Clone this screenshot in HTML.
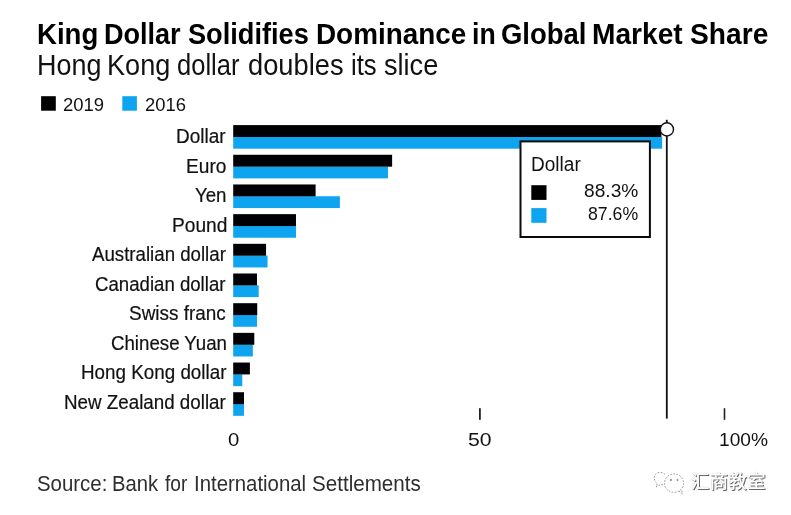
<!DOCTYPE html>
<html><head><meta charset="utf-8"><title>King Dollar Solidifies Dominance in Global Market Share</title>
<style>
html,body{margin:0;padding:0;background:#fff;}
body{width:791px;height:515px;position:relative;overflow:hidden;font-family:"Liberation Sans","Noto Sans CJK SC",sans-serif;color:#111;}
.abs{position:absolute;white-space:nowrap;}
.w{position:absolute;white-space:nowrap;line-height:1;transform-origin:0 50%;}
#wm{position:absolute;left:690.8px;top:469.6px;font-size:18.6px;font-weight:500;line-height:24px;color:#fff;text-shadow:1px 1px 0.5px #666,0 0 1px #aaa;white-space:nowrap;letter-spacing:0.15px;}
</style></head><body>
<div id="title"><span class="w" style="left:37.26px;top:19.80px;font-size:28.6px;font-weight:bold;color:#000;transform:scaleX(0.9647);">King</span> <span class="w" style="left:104.40px;top:19.80px;font-size:28.6px;font-weight:bold;color:#000;transform:scaleX(0.9459);">Dollar</span> <span class="w" style="left:188.40px;top:19.80px;font-size:28.6px;font-weight:bold;color:#000;transform:scaleX(0.9500);">Solidifies</span> <span class="w" style="left:315.84px;top:19.80px;font-size:28.6px;font-weight:bold;color:#000;transform:scaleX(0.9744);">Dominance</span> <span class="w" style="left:471.74px;top:19.80px;font-size:28.6px;font-weight:bold;color:#000;transform:scaleX(0.9321);">in</span> <span class="w" style="left:500.71px;top:19.80px;font-size:28.6px;font-weight:bold;color:#000;transform:scaleX(0.9607);">Global</span> <span class="w" style="left:592.03px;top:19.80px;font-size:28.6px;font-weight:bold;color:#000;transform:scaleX(0.9833);">Market</span> <span class="w" style="left:690.15px;top:19.80px;font-size:28.6px;font-weight:bold;color:#000;transform:scaleX(0.9853);">Share</span></div>
<div id="sub"><span class="w" style="left:37.34px;top:50.82px;font-size:29px;color:#111;transform:scaleX(0.9291);">Hong</span> <span class="w" style="left:106.93px;top:50.82px;font-size:29px;color:#111;transform:scaleX(0.9346);">Kong</span> <span class="w" style="left:176.55px;top:50.82px;font-size:29px;color:#111;transform:scaleX(0.8802);">dollar</span> <span class="w" style="left:248.27px;top:50.82px;font-size:29px;color:#111;transform:scaleX(0.9407);">doubles</span> <span class="w" style="left:350.57px;top:50.82px;font-size:29px;color:#111;transform:scaleX(0.8848);">its</span> <span class="w" style="left:384.13px;top:50.82px;font-size:29px;color:#111;transform:scaleX(0.9357);">slice</span></div>
<svg class="abs" style="left:0;top:0" width="791" height="515" viewBox="0 0 791 515">
<rect x="233.2" y="136.90" width="428.94" height="11.8" fill="#0ea4f0"/>
<rect x="233.2" y="125.10" width="428.21" height="11.9" fill="#000004"/>
<rect x="233.2" y="166.58" width="154.75" height="11.8" fill="#0ea4f0"/>
<rect x="233.2" y="154.78" width="158.92" height="11.9" fill="#000004"/>
<rect x="233.2" y="196.26" width="106.68" height="11.8" fill="#0ea4f0"/>
<rect x="233.2" y="184.46" width="82.40" height="11.9" fill="#000004"/>
<rect x="233.2" y="225.94" width="62.78" height="11.8" fill="#0ea4f0"/>
<rect x="233.2" y="214.14" width="62.78" height="11.9" fill="#000004"/>
<rect x="233.2" y="255.62" width="34.34" height="11.8" fill="#0ea4f0"/>
<rect x="233.2" y="243.82" width="32.86" height="11.9" fill="#000004"/>
<rect x="233.2" y="285.30" width="25.51" height="11.8" fill="#0ea4f0"/>
<rect x="233.2" y="273.50" width="23.79" height="11.9" fill="#000004"/>
<rect x="233.2" y="314.98" width="23.79" height="11.8" fill="#0ea4f0"/>
<rect x="233.2" y="303.18" width="24.03" height="11.9" fill="#000004"/>
<rect x="233.2" y="344.66" width="19.62" height="11.8" fill="#0ea4f0"/>
<rect x="233.2" y="332.86" width="21.09" height="11.9" fill="#000004"/>
<rect x="233.2" y="374.34" width="9.07" height="11.8" fill="#0ea4f0"/>
<rect x="233.2" y="362.54" width="16.68" height="11.9" fill="#000004"/>
<rect x="233.2" y="404.02" width="10.79" height="11.8" fill="#0ea4f0"/>
<rect x="233.2" y="392.22" width="10.79" height="11.9" fill="#000004"/>
<rect x="665.9" y="119.8" width="1.8" height="298.8" fill="#111"/>
<circle cx="666.9" cy="129.4" r="6.6" fill="#fff" stroke="#111" stroke-width="1.4"/>
<rect x="520.5" y="141.4" width="129.4" height="95.6" fill="#fff" stroke="#0a0a0a" stroke-width="2"/>
<rect x="479" y="408.2" width="1.8" height="11.6" fill="#222"/>
<rect x="723.7" y="408.2" width="1.6" height="11.6" fill="#222"/>
<rect x="41.1" y="96.2" width="14.7" height="14.5" fill="#000"/>
<rect x="122.3" y="96.2" width="14.6" height="14.5" fill="#0ea4f0"/>
<rect x="531.3" y="185.2" width="15.2" height="14.7" fill="#000"/>
<rect x="531.3" y="208.1" width="15.2" height="14.7" fill="#0ea4f0"/>
</svg>
<span class="w" style="left:176.13px;top:126.97px;font-size:19.3px;color:#111;-webkit-text-stroke:0.2px #111;transform:scaleX(0.9846);">Dollar</span>
<span class="w" style="left:186.11px;top:156.53px;font-size:19.3px;color:#111;-webkit-text-stroke:0.2px #111;transform:scaleX(0.9913);">Euro</span>
<span class="w" style="left:195.25px;top:186.09px;font-size:19.3px;color:#111;-webkit-text-stroke:0.2px #111;transform:scaleX(0.9679);">Yen</span>
<span class="w" style="left:171.51px;top:215.65px;font-size:19.3px;color:#111;-webkit-text-stroke:0.2px #111;transform:scaleX(0.9922);">Pound</span>
<span class="w" style="left:92.17px;top:245.21px;font-size:19.3px;color:#111;-webkit-text-stroke:0.2px #111;transform:scaleX(0.9683);">Australian dollar</span>
<span class="w" style="left:95.40px;top:274.77px;font-size:19.3px;color:#111;-webkit-text-stroke:0.2px #111;transform:scaleX(0.9659);">Canadian dollar</span>
<span class="w" style="left:129.30px;top:304.33px;font-size:19.3px;color:#111;-webkit-text-stroke:0.2px #111;transform:scaleX(0.9817);">Swiss franc</span>
<span class="w" style="left:110.80px;top:333.89px;font-size:19.3px;color:#111;-webkit-text-stroke:0.2px #111;transform:scaleX(0.9685);">Chinese Yuan</span>
<span class="w" style="left:80.54px;top:363.45px;font-size:19.3px;color:#111;-webkit-text-stroke:0.2px #111;transform:scaleX(0.9760);">Hong Kong dollar</span>
<span class="w" style="left:64.14px;top:393.01px;font-size:19.3px;color:#111;-webkit-text-stroke:0.2px #111;transform:scaleX(0.9738);">New Zealand dollar</span>
<span class="w" style="left:63.43px;top:95.97px;font-size:18.5px;color:#111;transform:scaleX(0.9989);">2019</span>
<span class="w" style="left:144.94px;top:95.97px;font-size:18.5px;color:#111;transform:scaleX(0.9928);">2016</span>
<span class="w" style="left:530.91px;top:153.57px;font-size:20px;color:#111;transform:scaleX(0.9523);">Dollar</span>
<span class="w" style="left:584.29px;top:181.97px;font-size:18.5px;color:#111;transform:scaleX(1.0354);">88.3%</span>
<span class="w" style="left:588.36px;top:204.97px;font-size:18.5px;color:#111;transform:scaleX(0.9566);">87.6%</span>
<span class="w" style="left:228.37px;top:431.17px;font-size:18.5px;color:#111;transform:scaleX(1.0992);">0</span>
<span class="w" style="left:468.35px;top:431.17px;font-size:18.5px;color:#111;transform:scaleX(1.1439);">50</span>
<span class="w" style="left:718.89px;top:431.17px;font-size:18.5px;color:#111;transform:scaleX(1.0356);">100%</span>
<div id="src"><span class="w" style="left:37.02px;top:472.68px;font-size:21.2px;color:#2e2e2e;transform:scaleX(0.9635);">Source:</span> <span class="w" style="left:111.50px;top:472.68px;font-size:21.2px;color:#2e2e2e;transform:scaleX(0.9548);">Bank</span> <span class="w" style="left:165.12px;top:472.68px;font-size:21.2px;color:#2e2e2e;transform:scaleX(0.9058);">for</span> <span class="w" style="left:194.00px;top:472.68px;font-size:21.2px;color:#2e2e2e;transform:scaleX(0.9614);">International</span> <span class="w" style="left:311.91px;top:472.68px;font-size:21.2px;color:#2e2e2e;transform:scaleX(0.9727);">Settlements</span></div>
<svg class="abs" style="left:648px;top:466px" width="40" height="32" viewBox="0 0 40 32" fill="none" stroke="#8c8c8c" stroke-width="0.9" stroke-dasharray="1.6 1.5">
 <path d="M17 8.5 C14.5 5.5 8 5.5 6.5 10 C5.5 13.5 7 16.5 9.5 17.5 L8 21 L12.5 18.5 L15.5 19"/>
 <ellipse cx="26" cy="17.2" rx="9.6" ry="9.2" fill="#fff"/>
 <path d="M31 25.2 L34.5 28 L33.5 23.5"/>
 <circle cx="23" cy="14" r="0.7" stroke-dasharray="none" fill="#999"/>
 <circle cx="29.5" cy="14" r="0.7" stroke-dasharray="none" fill="#999"/>
</svg>
<div id="wm">汇商教室</div>
</body></html>
